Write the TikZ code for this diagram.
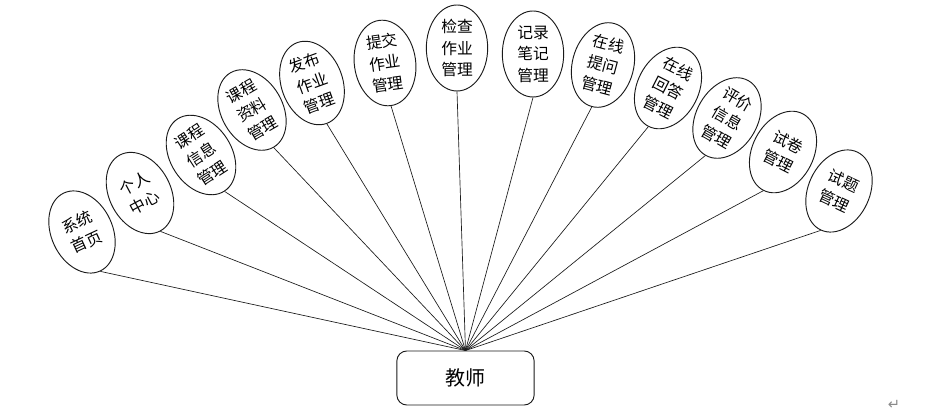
\documentclass[tikz,border=0pt]{standalone}
\usepackage{fontspec}
\setmainfont{Noto Sans CJK SC}
\newfontfamily\symfont{DejaVu Sans}
\usepackage{tikz}
\usetikzlibrary{shapes.geometric}
\definecolor{ink}{HTML}{1A1A1A}
\definecolor{mark}{HTML}{8A8A8A}

\begin{document}
\begin{tikzpicture}[x=0.75pt,y=-0.75pt,
    func/.style={ellipse,draw=ink,line width=0.7pt,minimum width=46pt,minimum height=64.5pt,
      inner sep=0pt,align=center,font=\fontsize{11.8}{16.2}\selectfont},
    role/.style={rectangle,rounded corners=7.5pt,draw=ink,line width=0.7pt,minimum width=103pt,
      minimum height=40.5pt,font=\fontsize{15}{17}\selectfont},
    link/.style={ink,line width=0.5pt}]
  \useasboundingbox (0,0) rectangle (935,416);
  % the role box at the bottom
  \node[role] (teacher) at (465.5,378) {教师};
  % functions: name/x/y/angle/label, left to right
  \foreach \n/\x/\y/\a/\t in {
      f1/82/232/25/{系统\\首页},
      f2/140/193/28/{个人\\中心},
      f3/201/155/33/{课程\\信息\\管理},
      f4/252/110/30/{课程\\资料\\管理},
      f5/312/83/20/{发布\\作业\\管理},
      f6/385/63/8/{提交\\作业\\管理},
      f7/457/48/0/{检查\\作业\\管理},
      f8/533/54/0/{记录\\笔记\\管理},
      f9/603/65/-15/{在线\\提问\\管理},
      f10/668/88/-27/{在线\\回答\\管理},
      f11/727/118/-30/{评价\\信息\\管理},
      f12/783/152/-27/{试卷\\管理},
      f13/839/191/-25/{试题\\管理}} {%
    \node[func,rotate=\a] (\n) at (\x,\y) {\t};
    \draw[link] (\n.south) -- (teacher.north);
  }
  % paragraph mark
  \node[text=mark,font=\symfont\fontsize{11}{12}\selectfont] (ret) at (894,405) {↵};
\end{tikzpicture}
\end{document}
